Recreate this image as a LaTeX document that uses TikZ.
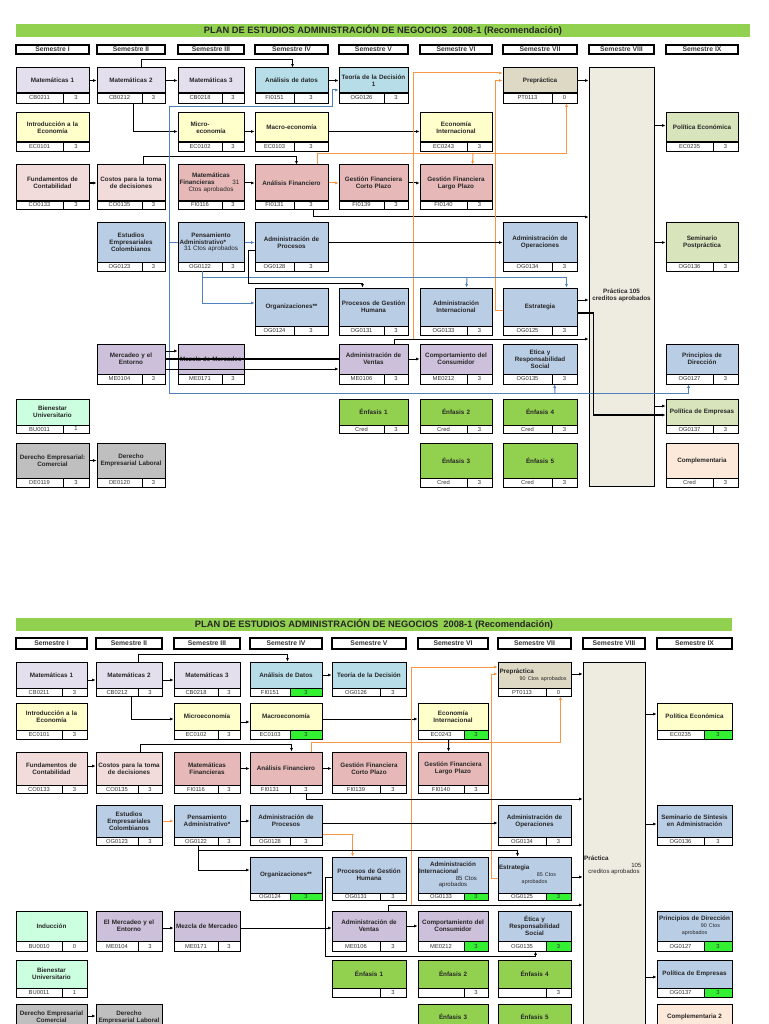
\documentclass[tikz,border=0pt]{standalone}
\usepackage{fontspec}
\setmainfont{Liberation Sans}
\usetikzlibrary{arrows.meta,calc}
\definecolor{cMath}{HTML}{E4DFEC}
\definecolor{cData}{HTML}{B7DEE8}
\definecolor{cEcon}{HTML}{FFFFCC}
\definecolor{cAcct}{HTML}{F2DCDB}
\definecolor{cFin}{HTML}{E6B9B8}
\definecolor{cOrg}{HTML}{B9CDE5}
\definecolor{cMkt}{HTML}{CCC0DA}
\definecolor{cBien}{HTML}{CCFFE0}
\definecolor{cDer}{HTML}{BFBFBF}
\definecolor{cEnf}{HTML}{92D050}
\definecolor{cPrep}{HTML}{DDD9C4}
\definecolor{cPolG}{HTML}{D7E4BC}
\definecolor{cComp}{HTML}{FDE9D9}
\definecolor{cPrac}{HTML}{EEECE1}
\definecolor{cGreen}{HTML}{33F033}
\definecolor{cTitle}{HTML}{92D050}
\definecolor{cOrange}{HTML}{F79646}
\definecolor{cBlue}{HTML}{4F81BD}
\newcommand\defcol[4]{\expandafter\def\csname cxa#1\endcsname{#2}\expandafter\def\csname cxs#1\endcsname{#3}\expandafter\def\csname cxb#1\endcsname{#4}}
\newcommand\defrow[4]{\expandafter\def\csname cya#1\endcsname{#2}\expandafter\def\csname cyb#1\endcsname{#3}\expandafter\def\csname cyc#1\endcsname{#4}}
\newcommand\smallfnt{\fontsize{5.4}{6}\selectfont\mdseries}
% page 1 columns
\defcol{a1}{16}{63}{89}\defcol{a2}{97}{142}{165}\defcol{a3}{178}{222}{244}\defcol{a4}{255}{294}{328}
\defcol{a5}{339}{384}{408}\defcol{a6}{420}{467}{492}\defcol{a7}{503}{552}{577}\defcol{a9}{666}{713}{738}
% page 1 rows
\defrow{a1}{68}{93}{103}\defrow{a2}{113}{142}{151}\defrow{a3}{165}{201}{209}\defrow{a4}{223}{262}{271}
\defrow{a5}{288}{326}{335}\defrow{a6}{344}{374}{384}\defrow{a7}{399}{425}{433}\defrow{a8}{443}{478}{487}
% page 2 columns
\defcol{b1}{16}{62}{87}\defcol{b2}{96}{138}{162}\defcol{b3}{174}{218}{240}\defcol{b4}{250}{290}{322}
\defcol{b5}{332}{380}{406}\defcol{b6}{418}{464}{488}\defcol{b7}{498}{546}{571}\defcol{b9}{657}{704}{732}
% page 2 rows
\defrow{b1}{662}{688}{696}\defrow{b2}{703}{730}{739}\defrow{b3}{752}{785}{793}\defrow{b4}{805}{837}{845}
\defrow{b5}{857}{893}{900}\defrow{b6}{911}{941}{951}\defrow{b7}{960}{988}{997}\defrow{b8}{1004}{1030}{1040}
\newcommand\course[8]{%
  \edef\cXa{\csname cxa#2\endcsname}\edef\cXs{\csname cxs#2\endcsname}\edef\cXb{\csname cxb#2\endcsname}%
  \edef\cYa{\csname cya#3\endcsname}\edef\cYb{\csname cyb#3\endcsname}\edef\cYc{\csname cyc#3\endcsname}%
  \pgfmathsetmacro\cW{\cXb-\cXa}\pgfmathsetmacro\cH{\cYb-\cYa}\pgfmathsetmacro\cTw{\cW-2}%
  \pgfmathsetmacro\cWa{\cXs-\cXa}\pgfmathsetmacro\cWb{\cXb-\cXs}\pgfmathsetmacro\cHb{\cYc-\cYb}%
  \node[cbox,fill=#4,minimum width=\cW pt,minimum height=\cH pt,text width=\cTw pt] (#1) at ({(\cXa+\cXb)/2},{(\cYa+\cYb)/2}) {#5};
  \node[ccell,minimum width=\cWa pt,minimum height=\cHb pt] (#1-c) at ({(\cXa+\cXs)/2},{(\cYb+\cYc)/2}) {#6};
  \node[ccell,fill=#8,minimum width=\cWb pt,minimum height=\cHb pt] (#1-k) at ({(\cXs+\cXb)/2},{(\cYb+\cYc)/2}) {#7};
}
\newcommand\sem[6]{%
  \pgfmathsetmacro\hdW{#3-#2}\pgfmathsetmacro\hdH{#5-#4}%
  \node[hdr,minimum width=\hdW pt,minimum height=\hdH pt] (#1) at ({(#2+#3)/2},{(#4+#5)/2}) {#6};
}
\tikzset{
  cbox/.style={draw=black, line width=1pt, inner sep=0.5pt, align=center, font=\fontsize{6.3}{6.8}\selectfont\bfseries, text=black!85},
  ccell/.style={draw=black, line width=0.9pt, inner sep=0pt, fill=white, font=\fontsize{5.8}{6}\selectfont, text=black!80},
  hdr/.style={draw=black, line width=1.1pt, fill=white, inner sep=0pt, font=\fontsize{6.8}{7}\selectfont\bfseries, text=black!80},
  ttl/.style={fill=cTitle, inner sep=0pt, font=\fontsize{9.3}{10}\selectfont\bfseries, text=black!85},
  lbl/.style={inner sep=0pt, font=\fontsize{6.3}{6.8}\selectfont\bfseries, text=black!85, align=center},
  arr/.style={draw=black, line width=1pt, -{Latex[length=3.4pt,width=3pt]}},
  oarr/.style={arr, draw=cOrange},
  barr/.style={arr, draw=cBlue},
}
\begin{document}
\begin{tikzpicture}[x=1pt,y=-1pt]
\useasboundingbox (0,0) rectangle (768,1024);
\fill[white] (0,0) rectangle (768,1024);
\clip (0,0) rectangle (768,1024);
% ================= PAGE 1 =================
\node[ttl,minimum width=734pt,minimum height=13pt] (At) at (383,30.5) {PLAN DE ESTUDIOS ADMINISTRACIÓN DE NEGOCIOS\ \ 2008-1 (Recomendación)};
\sem{Ah1}{16}{89}{45}{54}{Semestre I}
\sem{Ah2}{97}{165}{45}{54}{Semestre II}
\sem{Ah3}{178}{244}{45}{54}{Semestre III}
\sem{Ah4}{255}{328}{45}{54}{Semestre IV}
\sem{Ah5}{339}{408}{45}{54}{Semestre V}
\sem{Ah6}{420}{492}{45}{54}{Semestre VI}
\sem{Ah7}{503}{577}{45}{54}{Semestre VII}
\sem{Ah8}{589}{654}{45}{54}{Semestre VIII}
\sem{Ah9}{666}{738}{45}{54}{Semestre IX}
\node[cbox,fill=cPrac,minimum width=65pt,minimum height=418pt] (Apr) at (621.5,277) {};
\node[lbl] (Aprt) at (621.5,295.5) {Práctica 105\\creditos aprobados};
\course{Am1}{a1}{a1}{cMath}{Matemáticas 1}{CB0211}{3}{white}
\course{Am2}{a2}{a1}{cMath}{Matemáticas 2}{CB0212}{3}{white}
\course{Am3}{a3}{a1}{cMath}{Matemáticas 3}{CB0218}{3}{white}
\course{Aad}{a4}{a1}{cData}{Análisis de datos}{FI0151}{3}{white}
\course{Atd}{a5}{a1}{cData}{Teoría de la Decisión\\1}{OG0126}{3}{white}
\course{App}{a7}{a1}{cPrep}{Prepráctica}{PT0113}{0}{white}
\course{Aie}{a1}{a2}{cEcon}{Introducción a la\\Economía}{EC0101}{3}{white}
\course{Ami}{a3}{a2}{cEcon}{\hspace*{-22pt}Micro-\\economía}{EC0102}{3}{white}
\course{Ama}{a4}{a2}{cEcon}{Macro-economía}{EC0103}{3}{white}
\course{Aei}{a6}{a2}{cEcon}{Economía\\Internacional}{EC0243}{3}{white}
\course{Ape}{a9}{a2}{cPolG}{Política Económica}{EC0235}{3}{white}
\course{Afc}{a1}{a3}{cAcct}{Fundamentos de\\Contabilidad}{CO0133}{3}{white}
\course{Acd}{a2}{a3}{cAcct}{Costos para la toma\\de decisiones}{CO0135}{3}{white}
\course{Amf}{a3}{a3}{cFin}{Matemáticas\\\makebox[63pt]{Financieras\hfill{\mdseries 31}\hspace*{3pt}}\\{\mdseries Ctos aprobados}}{FI0116}{3}{white}
\course{Aaf}{a4}{a3}{cFin}{Análisis Financiero}{FI0131}{3}{white}
\course{Agc}{a5}{a3}{cFin}{Gestión Financiera\\Corto Plazo}{FI0139}{3}{white}
\course{Agl}{a6}{a3}{cFin}{Gestión Financiera\\Largo Plazo}{FI0140}{3}{white}
\course{Aee}{a2}{a4}{cOrg}{Estudios\\Empresariales\\Colombianos}{OG0123}{3}{white}
\course{Apa}{a3}{a4}{cOrg}{Pensamiento\\\makebox[63pt][l]{Administrativo*}\\{\mdseries 31 Ctos aprobados}}{OG0122}{3}{white}
\course{Aap}{a4}{a4}{cOrg}{Administración de\\Procesos}{OG0128}{3}{white}
\course{Aao}{a7}{a4}{cOrg}{Administración de\\Operaciones}{OG0134}{3}{white}
\course{Asp}{a9}{a4}{cPolG}{Seminario\\Postpráctica}{OG0136}{3}{white}
\course{Aog}{a4}{a5}{cOrg}{Organizaciones**}{OG0124}{3}{white}
\course{Apg}{a5}{a5}{cOrg}{Procesos de Gestión\\Humana}{OG0131}{3}{white}
\course{Aai}{a6}{a5}{cOrg}{Administración\\Internacional}{OG0133}{3}{white}
\course{Aes}{a7}{a5}{cOrg}{Estrategia}{OG0125}{3}{white}
\course{Ame}{a2}{a6}{cMkt}{Mercadeo y el\\Entorno}{ME0104}{3}{white}
\course{Amz}{a3}{a6}{cMkt}{Mezcla de Mercadeo}{ME0171}{3}{white}
\course{Aav}{a5}{a6}{cMkt}{Administración de\\Ventas}{ME0106}{3}{white}
\course{Acc}{a6}{a6}{cMkt}{Comportamiento del\\Consumidor}{ME0212}{3}{white}
\course{Aet}{a7}{a6}{cOrg}{Etica y\\Responsabilidad\\Social}{OG0135}{3}{white}
\course{Apd}{a9}{a6}{cOrg}{Principios de\\Dirección}{OG0127}{3}{white}
\course{Abu}{a1}{a7}{cBien}{Bienestar\\Universitario}{BU0011}{1}{white}
\course{Ae1}{a5}{a7}{cEnf}{Énfasis 1}{Cred}{3}{white}
\course{Ae2}{a6}{a7}{cEnf}{Énfasis 2}{Cred}{3}{white}
\course{Ae4}{a7}{a7}{cEnf}{Énfasis 4}{Cred}{3}{white}
\course{Apem}{a9}{a7}{cPolG}{Política de Empresas}{OG0137}{3}{white}
\course{Adc}{a1}{a8}{cDer}{Derecho Empresarial:\\Comercial}{DE0119}{3}{white}
\course{Adl}{a2}{a8}{cDer}{Derecho\\Empresarial Laboral}{DE0120}{3}{white}
\course{Ae3}{a6}{a8}{cEnf}{Énfasis 3}{Cred}{3}{white}
\course{Ae5}{a7}{a8}{cEnf}{Énfasis 5}{Cred}{3}{white}
\course{Acm}{a9}{a8}{cComp}{Complementaria}{Cred}{3}{white}
% connectors page 1
\draw[arr] (Am1.east) -- (Am2.west);
\draw[arr] (Am2.east) -- (Am3.west);
\draw[arr] ([xshift=45pt]Am2.north west) -- ++(0,-8) -| ([xshift=38pt]Aad.north west);
\draw[arr] (Aad.east) -- (Atd.west);
\draw[arr] ([xshift=37pt]Am2-c.south west) |- ([yshift=-4pt]Ami.west);
\draw[arr] ([yshift=-4pt]Ami.east) -- ([yshift=-4pt]Ama.west);
\draw[arr] ([yshift=-4pt]Ama.east) -- ([yshift=-4pt]Aei.west);
\draw[arr,line width=1.4pt] (Afc.east) -- (Acd.west);
\draw[arr,line width=1.4pt] ([xshift=47pt]Acd.north west) -- ++(0,-8) -| ([xshift=42pt]Aaf.north west);
\draw[arr] (Amf.east) -- (Aaf.west);
\draw[oarr] (Aaf.east) -- (Agc.west);
\draw[arr] (Agc.east) -- (Agl.west);
\draw[arr] ([xshift=59pt]Aaf-c.south west) |- ([yshift=60pt]Apr.west);
\draw[oarr] ([xshift=63pt]Aaf.north west) -- ++(0,-11) -| ([xshift=15pt]App-k.south west);
\coordinate (Ao1) at (473,154);
\draw[oarr] (Ao1) -- ([xshift=53pt]Agl.north west);
\coordinate (Ao2) at (413,340);
\draw[oarr] (Ao2) |- ([yshift=7.5pt]App.west);
\draw[oarr] ([yshift=-3pt]Aes.west) -- ++(-7,0) |- (App.west);
\draw[barr] (Apa.east) -- (Aap.west);
\draw[barr] (Apa.west) -- ++(-8,0) -- ++(0,-136) -- ++(163,0) |- ([yshift=-9.5pt]Atd.west);
\draw[barr] (Apa.west) -- ++(-8,0) -- ++(0,150.5) -| ([xshift=23pt]Apd-c.south west);
\coordinate (Ab1) at (555,393);
\draw[barr] (Ab1) -- ([xshift=52pt]Aet-c.south west);
\draw[barr] ([xshift=25pt]Apa-c.south west) |- ([yshift=4pt]Aog.west);
\coordinate (Ab2) at (203,277);
\draw[barr] (Ab2) -| ([xshift=64pt]Aes.north west);
\coordinate (Ab3) at (467,277);
\draw[barr] (Ab3) -- ([xshift=47pt]Aai.north west);
\draw[arr] (Aap.east) -- (Aao.west);
\draw[arr] ([yshift=-7.5pt]Aap.west) -- ++(-6,0) -- ++(0,33) -| ([xshift=24pt]Apg.north west);
\draw[arr] ([yshift=8pt]Ame.east) -- ([yshift=8pt]Amz.west);
\draw[line width=1.4pt] (Ame.east) -- (Aav.west);
\draw[arr] ([yshift=-10pt]Ame.east) -- ([yshift=-10pt]Aav.west);
\draw[arr] (Aav.east) -- (Acc.west);
\draw[arr] ([xshift=56pt]Aav.north west) |- ([yshift=-62pt]Apr.west);
\draw[arr] ([yshift=7pt]Aes.east) -- ([yshift=7pt]Aes.east -| Apr.west);
\draw[arr] (App.east) -- (App.east -| Apr.west);
\draw[arr] ([yshift=2pt]Ape.west -| Apr.east) -- ([yshift=2pt]Ape.west);
\draw[arr] (Asp.west -| Apr.east) -- (Asp.west);
\draw[arr] ([yshift=6pt]Apem.west -| Apr.east) -- ([yshift=6pt]Apem.west);
\draw[arr,line width=1.4pt] ([yshift=-6pt]Aes.east) -- ++(16,0) |- ([yshift=-3pt]Apem.west);
\draw[arr] (Adc.east) -- (Adl.west);
% ================= PAGE 2 =================
\node[ttl,minimum width=716pt,minimum height=13pt] (Bt) at (374,624.5) {PLAN DE ESTUDIOS ADMINISTRACIÓN DE NEGOCIOS\ \ 2008-1 (Recomendación)};
\sem{Bh1}{16}{87}{638}{649}{Semestre I}
\sem{Bh2}{96}{162}{638}{649}{Semestre II}
\sem{Bh3}{174}{240}{638}{649}{Semestre III}
\sem{Bh4}{250}{322}{638}{649}{Semestre IV}
\sem{Bh5}{332}{406}{638}{649}{Semestre V}
\sem{Bh6}{418}{488}{638}{649}{Semestre VI}
\sem{Bh7}{498}{571}{638}{649}{Semestre VII}
\sem{Bh8}{583}{645}{638}{649}{Semestre VIII}
\sem{Bh9}{657}{732}{638}{649}{Semestre IX}
\node[cbox,fill=cPrac,minimum width=62pt,minimum height=378pt] (Bpr) at (614,851) {};
\node[lbl,anchor=west] (Bprt1) at (584,858) {Práctica};
\node[lbl,anchor=east,font=\fontsize{6}{6.5}\selectfont] (Bprt2) at (641.5,865) {105};
\node[lbl,font=\fontsize{6}{6.5}\selectfont] (Bprt3) at (614,872) {creditos aprobados};
\course{Bm1}{b1}{b1}{cMath}{Matemáticas 1}{CB0211}{3}{white}
\course{Bm2}{b2}{b1}{cMath}{Matemáticas 2}{CB0212}{3}{white}
\course{Bm3}{b3}{b1}{cMath}{Matemáticas 3}{CB0218}{3}{white}
\course{Bad}{b4}{b1}{cData}{Análisis de Datos}{FI0151}{3}{cGreen}
\course{Btd}{b5}{b1}{cData}{Teoría de la Decisión}{OG0126}{3}{white}
\course{Bpp}{b7}{b1}{cPrep}{\makebox[70pt][l]{Prepráctica}\\\makebox[70pt][r]{\smallfnt 90 Ctos aprobados\hspace*{3pt}}}{PT0113}{0}{white}
\course{Bie}{b1}{b2}{cEcon}{Introducción a la\\Economía}{EC0101}{3}{white}
\course{Bmi}{b3}{b2}{cEcon}{Microeconomía}{EC0102}{3}{white}
\course{Bma}{b4}{b2}{cEcon}{Macroeconomía}{EC0103}{3}{cGreen}
\course{Bei}{b6}{b2}{cEcon}{Economía\\Internacional}{EC0243}{3}{cGreen}
\course{Bpe}{b9}{b2}{cEcon}{Política Económica}{EC0235}{3}{cGreen}
\course{Bfc}{b1}{b3}{cAcct}{Fundamentos de\\Contabilidad}{CO0133}{3}{white}
\course{Bcd}{b2}{b3}{cAcct}{Costos para la toma\\de decisiones}{CO0135}{3}{white}
\course{Bmf}{b3}{b3}{cFin}{Matemáticas\\Financieras}{FI0116}{3}{white}
\course{Baf}{b4}{b3}{cFin}{Análisis Financiero}{FI0131}{3}{white}
\course{Bgc}{b5}{b3}{cFin}{Gestión Financiera\\Corto Plazo}{FI0139}{3}{white}
\course{Bgl}{b6}{b3}{cFin}{Gestión Financiera\\Largo Plazo}{FI0140}{3}{white}
\course{Bee}{b2}{b4}{cOrg}{Estudios\\Empresariales\\Colombianos}{OG0123}{3}{white}
\course{Bpa}{b3}{b4}{cOrg}{Pensamiento\\Administrativo*}{OG0122}{3}{white}
\course{Bap}{b4}{b4}{cOrg}{Administración de\\Procesos}{OG0128}{3}{white}
\course{Bao}{b7}{b4}{cOrg}{Administración de\\Operaciones}{OG0134}{3}{white}
\course{Bss}{b9}{b4}{cOrg}{Seminario de Síntesis\\en Administración}{OG0136}{3}{white}
\course{Bog}{b4}{b5}{cOrg}{Organizaciones**}{OG0124}{3}{cGreen}
\course{Bpg}{b5}{b5}{cOrg}{Procesos de Gestión\\Humana}{OG0131}{3}{white}
\course{Bai}{b6}{b5}{cOrg}{Administración\\\makebox[68pt][l]{Internacional}\\\makebox[68pt][r]{\fontsize{6}{6.5}\selectfont\mdseries 85 Ctos\hspace*{10pt}}\\{\fontsize{6}{6.5}\selectfont\mdseries aprobados}}{OG0133}{3}{cGreen}
\course{Bes}{b7}{b5}{cOrg}{\makebox[71pt][l]{Estrategia}\\\makebox[71pt][r]{\smallfnt 85 Ctos\hspace*{14pt}}\\{\smallfnt aprobados}}{OG0125}{3}{cGreen}
\course{Bin}{b1}{b6}{cBien}{Inducción}{BU0010}{0}{white}
\course{Bme}{b2}{b6}{cMkt}{El Mercadeo y el\\Entorno}{ME0104}{3}{white}
\course{Bmz}{b3}{b6}{cMkt}{Mezcla de Mercadeo}{ME0171}{3}{white}
\course{Bav}{b5}{b6}{cMkt}{Administración de\\Ventas}{ME0106}{3}{white}
\course{Bcc}{b6}{b6}{cMkt}{Comportamiento del\\Consumidor}{ME0212}{3}{cGreen}
\course{Bet}{b7}{b6}{cOrg}{Ética y\\Responsabilidad\\Social}{OG0135}{3}{cGreen}
\course{Bpd}{b9}{b6}{cOrg}{Principios de Dirección\\\makebox[73pt][r]{\smallfnt 90 Ctos\hspace*{11pt}}\\{\smallfnt aprobados}}{OG0127}{3}{cGreen}
\course{Bbu}{b1}{b7}{cBien}{Bienestar\\Universitario}{BU0011}{1}{white}
\course{Be1}{b5}{b7}{cEnf}{Énfasis 1}{}{3}{white}
\course{Be2}{b6}{b7}{cEnf}{Énfasis 2}{}{3}{white}
\course{Be4}{b7}{b7}{cEnf}{Énfasis 4}{}{3}{white}
\course{Bpem}{b9}{b7}{cOrg}{Política de Empresas}{OG0137}{3}{cGreen}
\course{Bdc}{b1}{b8}{cDer}{Derecho Empresarial\\Comercial}{}{}{white}
\course{Bdl}{b2}{b8}{cDer}{Derecho\\Empresarial Laboral}{}{}{white}
\course{Be3}{b6}{b8}{cEnf}{Énfasis 3}{}{}{white}
\course{Be5}{b7}{b8}{cEnf}{Énfasis 5}{}{}{white}
\course{Bcm}{b9}{b8}{cComp}{Complementaria 2}{}{}{white}
% connectors page 2
\draw[arr] ([yshift=-5pt]Bm1.east) -- ([yshift=-5pt]Bm2.west);
\draw[arr] ([yshift=-5pt]Bm2.east) -- ([yshift=-5pt]Bm3.west);
\draw[arr] ([xshift=43pt]Bm2.north west) -- ++(0,-7) -| ([xshift=38pt]Bad.north west);
\draw[arr] (Bad.east) -- (Btd.west);
\draw[arr] ([xshift=36pt]Bm2-c.south west) |- ([yshift=-2.5pt]Bmi.west);
\draw[arr] ([yshift=-5.5pt]Bmi.east) -- ([yshift=-5.5pt]Bma.west);
\draw[arr] ([yshift=-2.5pt]Bma.east) -- ([yshift=-2.5pt]Bei.west);
\draw[arr] ([yshift=2.5pt]Bfc.east) -- ([yshift=2.5pt]Bcd.west);
\draw[arr] ([xshift=45pt]Bcd.north west) -- ++(0,-7) -| ([xshift=42pt]Baf.north west);
\draw[arr] (Bmf.east) -- (Baf.west);
\draw[arr] (Baf.east) -- (Bgc.west);
\draw[oarr] ([xshift=62pt]Baf.north west) -- ++(0,-9) -| ([xshift=15pt]Bpp-k.south west);
\draw[arr] ([xshift=31pt]Bei-c.south west) -- ([xshift=31pt]Bgl.north west);
\coordinate (Bo1) at (411,905);
\draw[oarr] (Bo1) |- ([yshift=8pt]Bpp.west);
\draw[oarr] ([yshift=-3pt]Bes.west) -- ++(-6,0) |- ([yshift=1pt]Bpp.west);
\draw[arr] ([xshift=57pt]Baf-c.south west) |- ([yshift=52pt]Bpr.west);
\draw[arr] ([yshift=-2pt]Bap.east) -- ([yshift=-2pt]Bao.west);
\draw[oarr] (Bee.east) -- (Bpa.west);
\draw[arr] (Bpa.east) -- (Bap.west);
\draw[oarr] ([yshift=-13pt]Bap.east) -- ++(31,0) -| ([xshift=21pt]Bpg.north west);
\draw[arr] ([xshift=25pt]Bpa-c.south west) |- ([yshift=5pt]Bog.west);
\coordinate (Bb2) at (199,850);
\draw[arr] (Bb2) -| ([xshift=20pt]Bes.north west);
\draw[arr] ([yshift=-2pt]Bes.east) -- ([yshift=-2pt]Bes.east -| Bpr.west);
\draw[arr] ([yshift=-2pt]Bpg.west) -- ++(-6,0) -- ++(0,79) -| ([xshift=38pt]Bet-c.south west);
\draw[arr] ([yshift=-2pt]Bme.east) -- ([yshift=-2pt]Bmz.west);
\draw[arr] ([yshift=-2pt]Bmz.east) -- ([yshift=-2pt]Bav.west);
\draw[arr] (Bav.east) -- (Bcc.west);
\draw[arr] ([xshift=57pt]Bav.north west) |- ([yshift=-54pt]Bpr.west);
\draw[arr] ([yshift=1pt]Bpp.east) -- ([yshift=1pt]Bpp.east -| Bpr.west);
\draw[arr] ([yshift=2.5pt]Bpe.west -| Bpr.east) -- ([yshift=2.5pt]Bpe.west);
\draw[arr] ([yshift=-3pt]Bss.west -| Bpr.east) -- ([yshift=-3pt]Bss.west);
\draw[arr] ([yshift=-3pt]Bpem.west -| Bpr.east) -- ([yshift=-3pt]Bpem.west);
\draw[arr] ([yshift=1pt]Bdc.east) -- ([yshift=1pt]Bdl.west);
\end{tikzpicture}
\end{document}
